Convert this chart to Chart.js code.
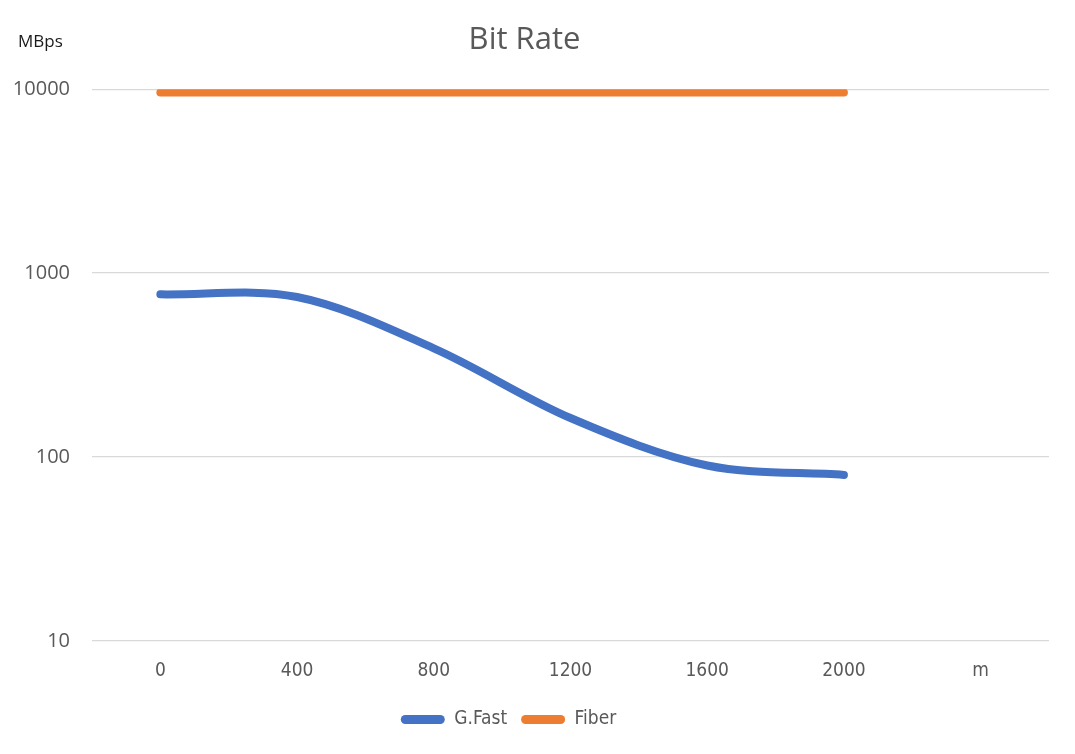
<!DOCTYPE html>
<html>
<head>
<meta charset="utf-8">
<script src="https://cdn.jsdelivr.net/npm/chart.js@4.4.1/dist/chart.umd.min.js"></script>
<style>
  html, body { margin: 0; padding: 0; background: #fff; }
  #wrap { position: relative; width: 1075px; height: 754px; }
  #unit { position: absolute; left: 18px; top: 31px; font-family: "Open Sans", sans-serif; font-size: 17px; line-height: 20px; color: #1a1a1a; }
</style>
</head>
<body>
<div id="wrap">
  <canvas id="c" width="1075" height="754"></canvas>
  <div id="unit">MBps</div>
</div>
<script>
const categories = ['0', '400', '800', '1200', '1600', '2000', 'm'];
const gFast = [767, 742, 390, 163, 90, 80];
const fiber = [9600, 9600, 9600, 9600, 9600, 9600];
const yTicks = [10, 100, 1000, 10000];
const titleText = 'Bit Rate';

const narrowFont = { family: '"DejaVu Sans", sans-serif', size: 19, weight: 'normal condensed' };
const textColor = '#595959';

const legendShift = {
  id: 'legendShift',
  afterLayout(chart) {
    if (chart.legend) { chart.legend.left -= 16; chart.legend.right -= 16; }
  }
};

new Chart(document.getElementById('c'), {
  type: 'line',
  data: {
    labels: categories,
    datasets: [
      { label: 'G.Fast', data: gFast, borderColor: '#4472C4', backgroundColor: '#4472C4',
        borderWidth: 8, tension: 0.33, pointRadius: 0, borderCapStyle: 'round', borderJoinStyle: 'round', fill: false },
      { label: 'Fiber', data: fiber, borderColor: '#ED7D31', backgroundColor: '#ED7D31',
        borderWidth: 8, tension: 0.33, pointRadius: 0, borderCapStyle: 'round', borderJoinStyle: 'round', fill: false }
    ]
  },
  plugins: [legendShift],
  options: {
    responsive: false,
    animation: false,
    devicePixelRatio: 1,
    layout: { padding: { left: 0, right: 26, top: 0, bottom: 15 } },
    plugins: {
      title: {
        display: true, text: titleText, color: textColor,
        font: { family: '"Open Sans", sans-serif', size: 31, weight: 'normal' },
        padding: { top: 22, bottom: 30 }
      },
      legend: {
        position: 'bottom',
        labels: {
          color: textColor,
          font: narrowFont,
          boxWidth: 44, boxHeight: 9,
          useBorderRadius: true, borderRadius: 4.5,
          padding: 14,
          generateLabels: (chart) => {
            const items = Chart.defaults.plugins.legend.labels.generateLabels(chart);
            items.forEach(i => { i.lineWidth = 0; });
            return items;
          }
        }
      },
      tooltip: { enabled: false }
    },
    scales: {
      x: {
        type: 'category',
        offset: true,
        grid: { display: false, drawTicks: false },
        border: { display: false },
        ticks: { color: textColor, font: narrowFont, padding: 19, maxRotation: 0, autoSkip: false },
        afterFit: (s) => { s.height = 55; }
      },
      y: {
        type: 'logarithmic',
        min: 10, max: 10000,
        grid: { color: '#d9d9d9', lineWidth: 1.3, drawTicks: false },
        border: { display: false },
        ticks: {
          color: textColor, font: { family: '"Open Sans", sans-serif', size: 20 }, padding: 22,
          callback: (v) => String(v)
        },
        afterBuildTicks: (s) => { s.ticks = yTicks.map(v => ({ value: v })); },
        afterFit: (s) => { s.width = 92; }
      }
    }
  }
});
</script>
</body>
</html>
